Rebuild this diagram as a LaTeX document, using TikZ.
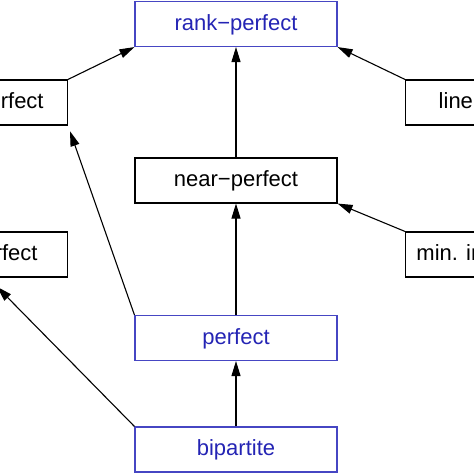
\documentclass[tikz,border=0pt]{standalone}
\usepackage{fontspec}
\setmainfont{Liberation Sans}
\usetikzlibrary{arrows.meta, positioning, calc}
\definecolor{clsblue}{RGB}{36,36,180}
\definecolor{clsborder}{RGB}{70,70,195}
\tikzset{
    cls/.style={draw=black, line width=1.1pt, minimum height=45pt, inner sep=0pt,
        text height=15pt, text depth=3pt, font=\fontsize{22}{26}\selectfont},
    clsB/.style={cls, draw=clsborder, text=clsblue},
    incl/.style={-{Triangle[length=15pt,width=9pt]}, line width=1.1pt}
}
\begin{document}
\begin{tikzpicture}[x=1pt, y=-1pt]
    \useasboundingbox (0,0) rectangle (474,474);
    \clip (0,0) rectangle (474,474);
    % middle column
    \node[clsB, minimum width=202pt] (rank) at (236,24) {rank−perfect};
    \node[cls, minimum width=202pt] (near) at (236,180.5) {near−perfect};
    \node[clsB, minimum width=202pt] (perf) at (236,338) {perfect};
    \node[clsB, minimum width=202pt] (bip) at (236,449.5) {bipartite};
    % side classes
    \node[cls, minimum width=140pt, anchor=east] (hperf) at (68,102.5) {h−perfect};
    \node[cls, minimum width=146pt, anchor=east] (tperf) at (68,254.5) {t−perfect};
    \node[cls, minimum width=174pt, anchor=west] (line) at (405,102.5) {line graphs};
    \node[cls, minimum width=162pt, anchor=west] (minimp) at (405,254.5) {min. imperfect};
    % inclusions
    \draw[incl] (hperf.north east) -- (rank.south west);
    \draw[incl] (line.north west) -- (rank.south east);
    \draw[incl] (near.north) -- (rank.south);
    \draw[incl] (perf.north) -- (near.south);
    \draw[incl] (minimp.north west) -- (near.south east);
    \draw[incl, shorten >=6pt] (perf.north west) -- (hperf.south east);
    \draw[incl] (bip.north) -- (perf.south);
    \draw[incl, shorten >=13pt] (bip.north west) -- ([xshift=-80pt]tperf.south east);
\end{tikzpicture}
\end{document}
